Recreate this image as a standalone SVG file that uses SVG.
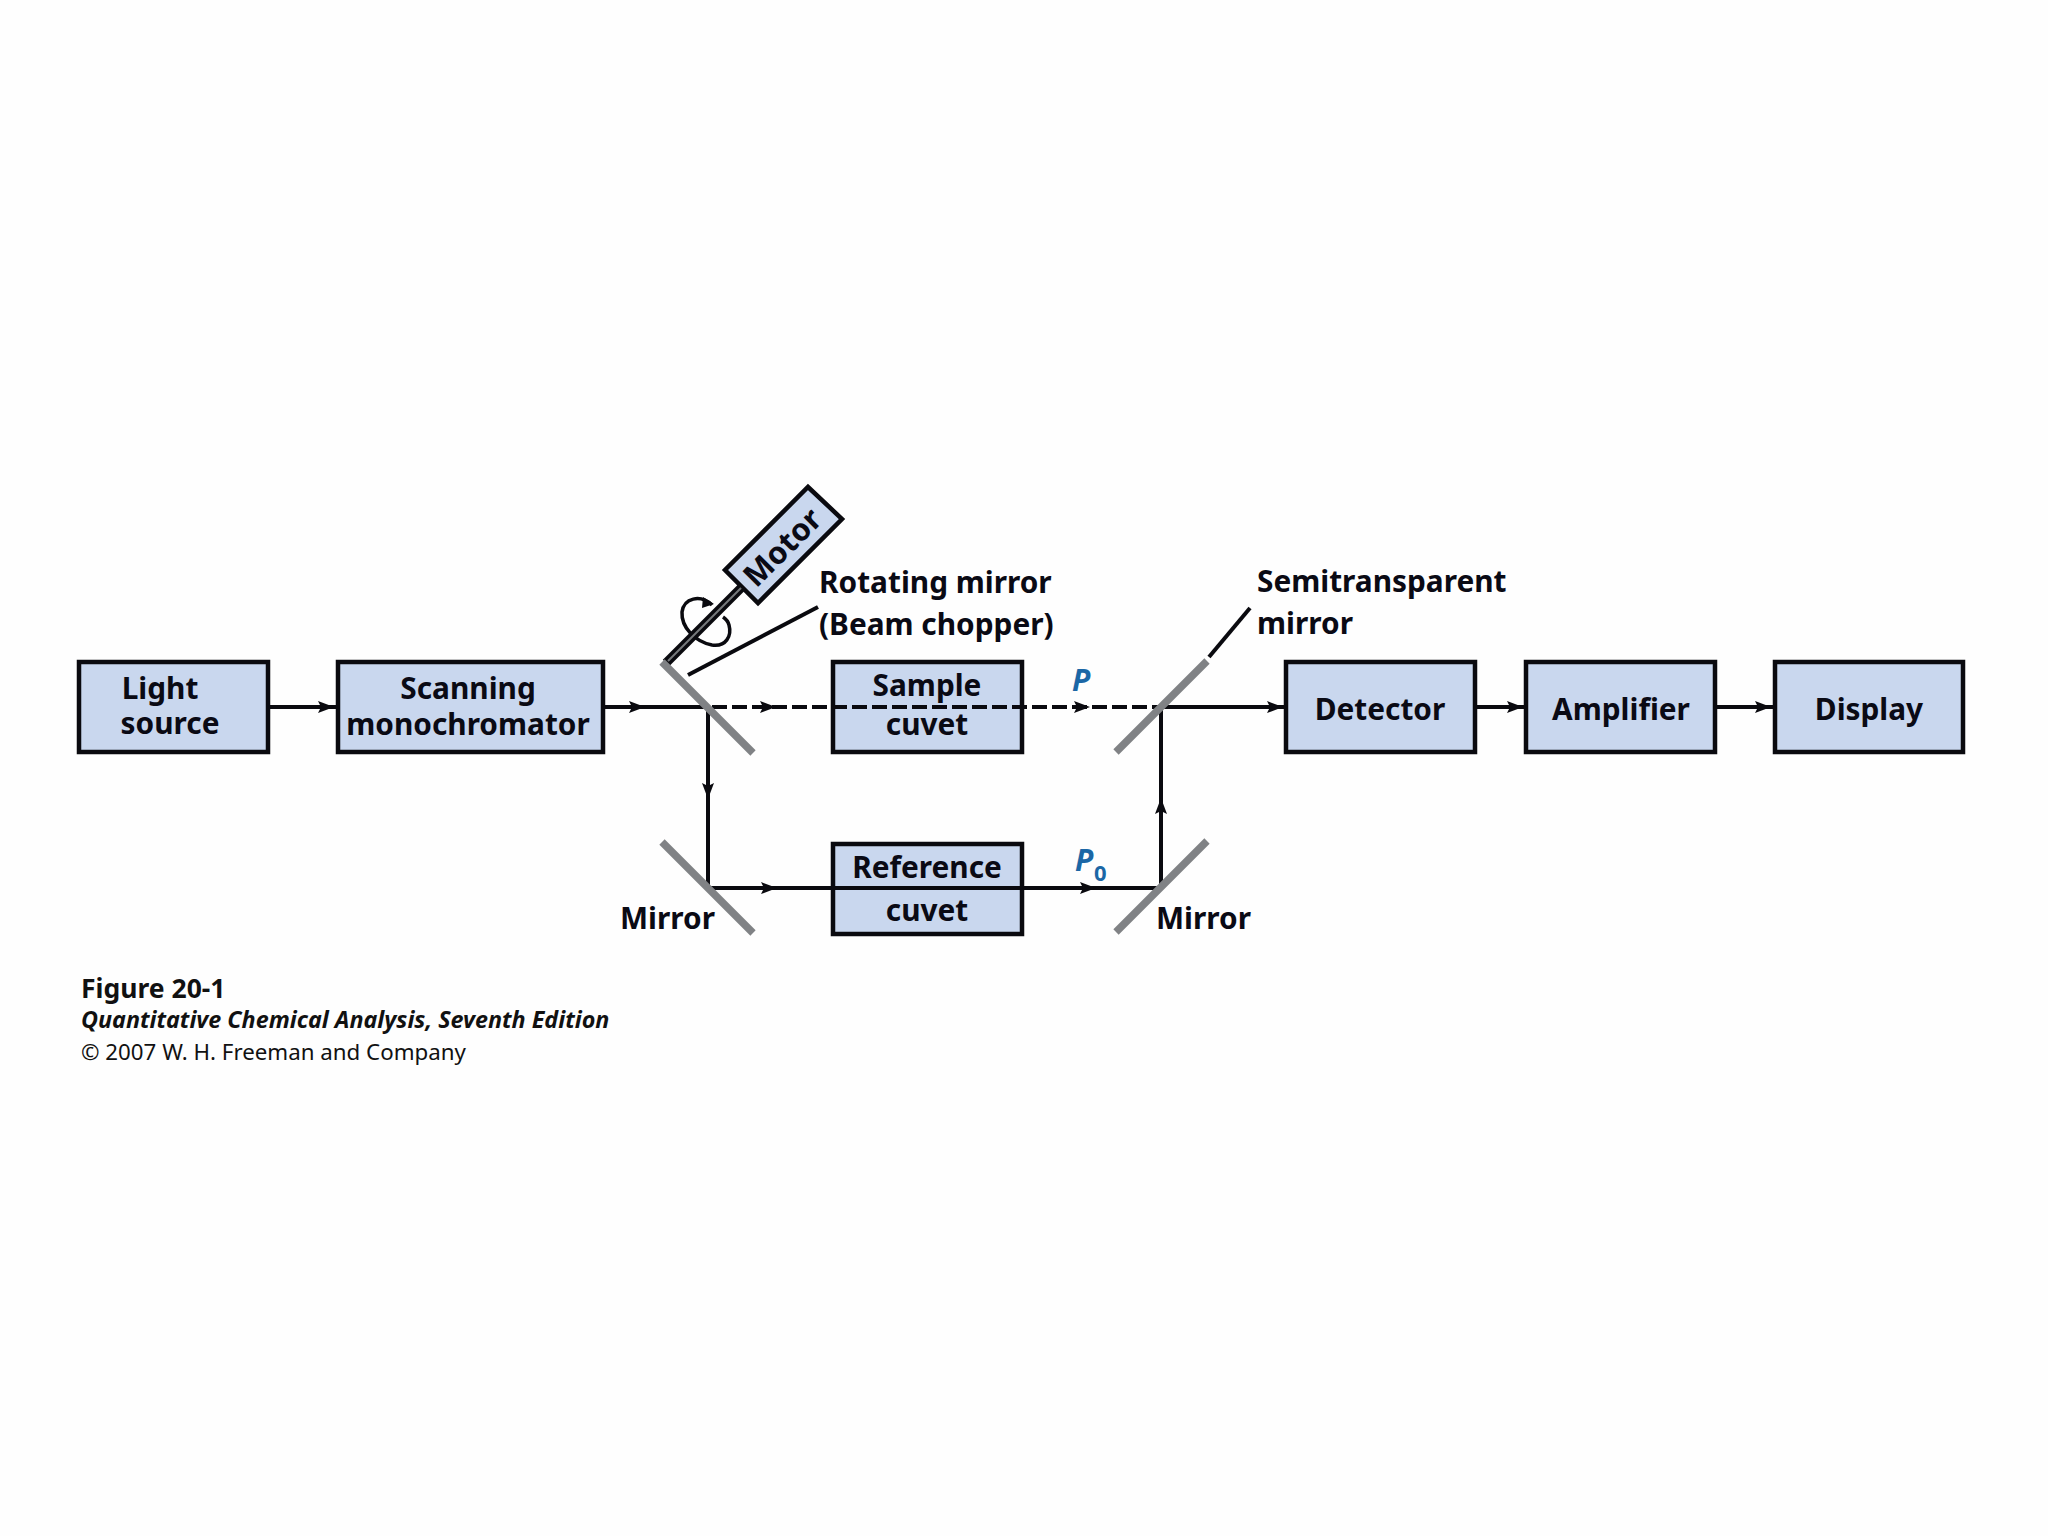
<svg xmlns="http://www.w3.org/2000/svg" width="2048" height="1536" viewBox="0 0 2048 1536">
<style>
.box{fill:#c9d7ee;stroke:#0a0a0f;stroke-width:4.5}
.t{font-family:"Noto Sans","Open Sans","Liberation Sans",sans-serif;font-weight:700;font-size:29.8px;fill:#0a0a14}
.m{text-anchor:middle}
.p{font-family:"Noto Sans","Open Sans","Liberation Sans",sans-serif;font-weight:700;font-style:italic;font-size:30px;fill:#1b67a6}
.beam{fill:none;stroke:#0a0a0f;stroke-width:4;marker-mid:url(#ah)}
.lead{fill:none;stroke:#0a0a0f;stroke-width:4}
.mir{stroke:#808285;stroke-width:7.5;fill:none}
.cap{font-family:"Noto Sans","Open Sans","Liberation Sans",sans-serif;fill:#111}
</style>
<defs>
<marker id="ah" markerUnits="userSpaceOnUse" markerWidth="18" markerHeight="14" refX="16" refY="7" orient="auto"><path d="M0,1 L16,7 L0,13 L3,7 Z" fill="#0a0a0f"/></marker>
</defs>
<rect width="2048" height="1536" fill="#fefefe"/>
<g id="light-source"><rect class="box" x="79" y="662" width="189" height="90"/><text class="t m" x="160" y="699">Light</text><text class="t m" x="170" y="734">source</text></g>
<g id="monochromator"><rect class="box" x="338" y="662" width="265" height="90"/><text class="t m" x="468" y="699">Scanning</text><text class="t m" x="468" y="735">monochromator</text></g>
<g id="sample-cuvet"><rect class="box" x="833" y="662" width="189" height="90"/><text class="t m" x="927" y="696">Sample</text><text class="t m" x="927" y="735">cuvet</text></g>
<g id="reference-cuvet"><rect class="box" x="833" y="844" width="189" height="90"/><text class="t m" x="927" y="878">Reference</text><text class="t m" x="927" y="921">cuvet</text></g>
<g id="detector"><rect class="box" x="1286" y="662" width="189" height="90"/><text class="t m" x="1380" y="720">Detector</text></g>
<g id="amplifier"><rect class="box" x="1526" y="662" width="189" height="90"/><text class="t m" x="1621" y="720">Amplifier</text></g>
<g id="display"><rect class="box" x="1775" y="662" width="188" height="90"/><text class="t m" x="1869" y="720">Display</text></g>
<g id="motor"><polygon class="box" points="808,487 842,519 758,603 725,570"/><text class="t m" style="font-size:31px" transform="translate(790,555) rotate(-45)">Motor</text></g>
<g id="connectors">
<path class="beam" d="M268,707 L334,707 L338,707"/>
<path class="beam" d="M603,707 L645,707 L708,707"/>
<path class="beam" d="M708,707 L708,799 L708,888"/>
<path class="beam" d="M708,888 L777,888 L1096,888 L1161,888"/>
<path class="beam" d="M1161,888 L1161,798 L1161,707"/>
<path class="beam" d="M1161,707 L1283,707 L1286,707"/>
<path class="beam" d="M1475,707 L1523,707 L1526,707"/>
<path class="beam" d="M1715,707 L1771,707 L1775,707"/>
<path class="beam" d="M712,707 L776,707 L1090,707 L1161,707" stroke-dasharray="15 5"/>
<line class="lead" x1="688" y1="675" x2="818" y2="607"/>
<line class="lead" x1="1209" y1="657" x2="1250" y2="608"/>
<path d="M712,605 C700,594 684,598 682,612 C681,628 696,642 712,645 C726,647 732,636 729,625 C728,621 726,619 723,617" fill="none" stroke="#0a0a0f" stroke-width="3.5"/>
<path d="M703,597 L714,604 L702,608 Z" fill="#0a0a0f"/>
</g>
<g id="shaft"><line x1="666" y1="663" x2="741" y2="588" stroke="#0a0a0f" stroke-width="9"/><line x1="668" y1="661" x2="741" y2="588" stroke="#77797c" stroke-width="2"/></g>
<g id="mirrors">
<line class="mir" x1="662" y1="662" x2="753" y2="753"/>
<line class="mir" x1="1207" y1="661" x2="1116" y2="752"/>
<line class="mir" x1="662" y1="842" x2="753" y2="933"/>
<line class="mir" x1="1207" y1="841" x2="1116" y2="932"/>
</g>
<g id="labels">
<text class="t" x="819" y="593">Rotating mirror</text>
<text class="t" x="819" y="635">(Beam chopper)</text>
<text class="t" x="1257" y="592">Semitransparent</text>
<text class="t" x="1257" y="634">mirror</text>
<text class="t" x="620" y="929">Mirror</text>
<text class="t" x="1156" y="929">Mirror</text>
<text class="p" x="1072" y="691">P</text>
<text class="p" x="1075" y="871">P</text>
<text class="p" style="font-style:normal;font-size:22px" x="1094" y="881">0</text>
</g>
<g id="caption">
<text class="cap" x="81" y="998" font-size="26.5" font-weight="700">Figure 20-1</text>
<text class="cap" x="81" y="1028" font-size="23.3" font-weight="700" font-style="italic">Quantitative Chemical Analysis, Seventh Edition</text>
<text class="cap" x="81" y="1060" font-size="22.3">© 2007 W. H. Freeman and Company</text>
</g>
</svg>
